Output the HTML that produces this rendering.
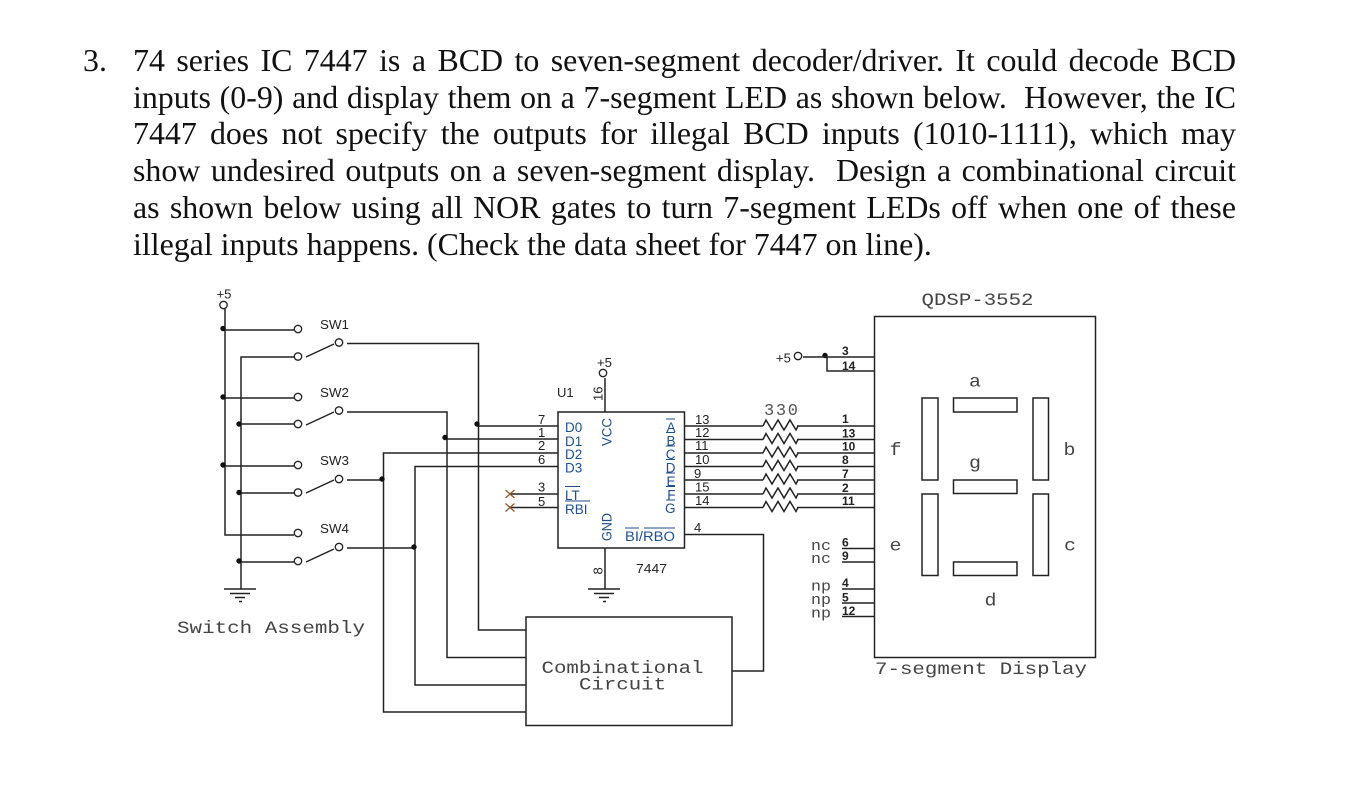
<!DOCTYPE html>
<html>
<head>
<meta charset="utf-8">
<style>
html,body{margin:0;padding:0;background:#fff;}
body{width:1362px;height:800px;position:relative;overflow:hidden;}
.t{position:absolute;left:133px;width:1103px;height:37px;line-height:36.7px;font-family:"Liberation Serif",serif;font-size:31.9px;color:#111;white-space:nowrap;text-align:justify;text-align-last:justify;}
svg{position:absolute;left:0;top:0;}
.w{fill:none;stroke:#222;stroke-width:1.5;}
.c{fill:#fff;stroke:#222;stroke-width:1.3;}
.d{fill:#111;stroke:none;}
.m{font-family:"Liberation Mono",monospace;font-size:17.5px;fill:#444;}
.s{font-family:"Liberation Sans",sans-serif;font-size:13px;fill:#222;}
.n{font-family:"Liberation Sans",sans-serif;font-size:13px;fill:#222;}
.b{font-family:"Liberation Sans",sans-serif;font-size:13.5px;fill:#1f4f8f;}
.o{font-family:"Liberation Sans",sans-serif;font-size:12px;font-weight:bold;fill:#222;}
.bl{stroke:#1f4f8f;stroke-width:1;fill:none;}
</style>
</head>
<body>
<div class="t" style="left:83px;width:40px;top:43px;text-align:left;text-align-last:left;">3.</div>
<div class="t" style="top:43px;">74 series IC 7447 is a BCD to seven-segment decoder/driver. It could decode BCD</div>
<div class="t" style="top:80px;">inputs (0-9) and display them on a 7-segment LED as shown below.&nbsp; However, the IC</div>
<div class="t" style="top:116px;">7447 does not specify the outputs for illegal BCD inputs (1010-1111), which may</div>
<div class="t" style="top:153px;">show undesired outputs on a seven-segment display.&nbsp; Design a combinational circuit</div>
<div class="t" style="top:190px;">as shown below using all NOR gates to turn 7-segment LEDs off when one of these</div>
<div class="t" style="top:227px;text-align:left;text-align-last:left;">illegal inputs happens. (Check the data sheet for 7447 on line).</div>

<svg width="1362" height="800" viewBox="0 0 1362 800" xmlns="http://www.w3.org/2000/svg">
<!-- Switch wiring -->
<path class="w" d="M225 309V535H294M225 330H294M225 398H294M225 466H294"/>
<path class="w" d="M294 357H241V589M241 424H294M241 493H294M241 562H294"/>
<path class="w" d="M306 357L334 344M306 425L334 412M306 493L334 480M306 562L334 549"/>
<path class="w" d="M347 343.500H478.500V630H526"/>
<path class="w" d="M347 412H447V657.500H526"/>
<path class="w" d="M347 480H383.500"/>
<path class="w" d="M347 548H415"/>
<path class="w" d="M558 453H383.500V712H526"/>
<path class="w" d="M558 466.500H415V685H526"/>
<path class="w" d="M477 426H558M445 439H558"/>
<g class="c">
<circle cx="223.500" cy="305" r="3.700"/>
<circle cx="298" cy="329" r="3.700"/><circle cx="298" cy="356.500" r="3.700"/><circle cx="339" cy="342.500" r="3.700"/>
<circle cx="298" cy="397" r="3.700"/><circle cx="298" cy="424" r="3.700"/><circle cx="339" cy="410.500" r="3.700"/>
<circle cx="298" cy="465" r="3.700"/><circle cx="298" cy="492.500" r="3.700"/><circle cx="339" cy="479" r="3.700"/>
<circle cx="298" cy="533" r="3.700"/><circle cx="298" cy="561" r="3.700"/><circle cx="339" cy="547" r="3.700"/>
<circle cx="603" cy="373" r="3.700"/>
<circle cx="798" cy="356" r="3.700"/>
</g>
<g class="d">
<circle cx="223" cy="328.500" r="2.700"/><circle cx="223" cy="397" r="2.700"/><circle cx="223" cy="465" r="2.700"/>
<circle cx="239" cy="424" r="2.700"/><circle cx="239" cy="492.500" r="2.700"/><circle cx="239" cy="561" r="2.700"/>
<circle cx="382" cy="479" r="2.700"/><circle cx="414" cy="547" r="2.700"/>
<circle cx="477" cy="424" r="2.700"/><circle cx="445" cy="437.500" r="2.700"/>
<circle cx="825" cy="355.500" r="2.700"/>
</g>
<!-- Grounds -->
<path class="w" d="M224 589H256M230 593.500H250M235 597.500H245M239 601.500H242"/>
<path class="w" d="M605 548V589M588 589H620M594 593.500H614M599 597.500H609M603 601.500H606"/>
<!-- IC -->
<rect class="w" x="558" y="412" width="126.500" height="136"/>
<path class="w" d="M605 412V378"/>
<path class="w" d="M510 494H558M510 507.500H558"/>
<path stroke="#8a5a2b" stroke-width="1.300" fill="none" d="M505.500 490L514.500 498M505.500 498L514.500 490M505.500 503.500L514.500 511.500M505.500 511.500L514.500 503.500"/>
<path class="w" d="M684 426H763M684 439.500H763M684 453H763M684 466.500H763M684 480H763M684 494H763M684 507.500H763"/>
<path class="w" d="M797 426H874M797 439.500H874M797 453H874M797 466.500H874M797 480H874M797 494H874M797 507.500H874"/>
<g class="w" stroke-width="1.300">
<path d="M763 426L766 420L772 430L778 420L784 430L790 420L796 430L798 426"/>
<path d="M763 439.500L766 433.500L772 443.500L778 433.500L784 443.500L790 433.500L796 443.500L798 439.500"/>
<path d="M763 453L766 447L772 457L778 447L784 457L790 447L796 457L798 453"/>
<path d="M763 466.500L766 460.500L772 470.500L778 460.500L784 470.500L790 460.500L796 470.500L798 466.500"/>
<path d="M763 480L766 474L772 484L778 474L784 484L790 474L796 484L798 480"/>
<path d="M763 494L766 488L772 498L778 488L784 498L790 488L796 498L798 494"/>
<path d="M763 507.500L766 501.500L772 511.500L778 501.500L784 511.500L790 501.500L796 511.500L798 507.500"/>
</g>
<path class="w" d="M684 534.500H763.500V671H732"/>
<rect class="w" x="526" y="617" width="206" height="108.500"/>
<path class="w" d="M803 357H874M827 357V371H874"/>
<!-- Display -->
<rect class="w" x="874.500" y="316.500" width="221" height="341"/>
<rect class="w" x="953.500" y="398" width="63.500" height="14"/>
<rect class="w" x="953.500" y="480" width="63.500" height="13.500"/>
<rect class="w" x="953.500" y="562" width="63.500" height="13.500"/>
<rect class="w" x="922" y="398" width="16" height="82"/>
<rect class="w" x="1033" y="398" width="15.500" height="82"/>
<rect class="w" x="922" y="494" width="16" height="81.500"/>
<rect class="w" x="1033" y="494" width="15.500" height="81.500"/>
<path class="w" d="M842 548.500H874M842 562H874M842 589H874M842 603H874M842 616.500H874"/>

<!-- Labels -->
<text class="s" x="216.500" y="298.500" textLength="15" lengthAdjust="spacingAndGlyphs">+5</text>
<text class="s" x="320" y="329" textLength="29" lengthAdjust="spacingAndGlyphs">SW1</text>
<text class="s" x="320" y="397" textLength="29" lengthAdjust="spacingAndGlyphs">SW2</text>
<text class="s" x="320" y="465" textLength="29" lengthAdjust="spacingAndGlyphs">SW3</text>
<text class="s" x="320" y="533" textLength="29" lengthAdjust="spacingAndGlyphs">SW4</text>
<text class="m" x="177" y="633" textLength="188" lengthAdjust="spacingAndGlyphs">Switch Assembly</text>
<text class="s" x="557" y="397">U1</text>
<text class="s" x="597" y="367" textLength="15" lengthAdjust="spacingAndGlyphs">+5</text>
<text class="s" transform="translate(602.500,401) rotate(-90)" x="0" y="0">16</text>
<text class="s" transform="translate(602.500,574.500) rotate(-90)" x="0" y="0">8</text>
<text class="s" x="636" y="573" textLength="31" lengthAdjust="spacingAndGlyphs">7447</text>

<text class="n" x="538" y="424">7</text><text class="n" x="538" y="437">1</text><text class="n" x="538" y="450">2</text><text class="n" x="538" y="464">6</text>
<text class="n" x="538" y="491.500">3</text><text class="n" x="538" y="506">5</text>
<text class="n" x="695" y="424">13</text><text class="n" x="695" y="437">12</text><text class="n" x="695" y="450">11</text><text class="n" x="695" y="464">10</text>
<text class="n" x="694" y="478">9</text><text class="n" x="695" y="491.500">15</text><text class="n" x="695" y="505">14</text><text class="n" x="694" y="532">4</text>

<text class="b" x="565" y="432">D0</text><text class="b" x="565" y="446">D1</text><text class="b" x="565" y="459">D2</text><text class="b" x="565" y="472.500">D3</text>
<text class="b" x="565" y="500">LT</text><text class="b" x="565" y="514">RBI</text>
<path class="bl" d="M565 486.500H580M565 501H590"/>
<text class="b" text-anchor="end" x="675.500" y="432">A</text><text class="b" text-anchor="end" x="675.500" y="445.500">B</text><text class="b" text-anchor="end" x="675.500" y="459">C</text><text class="b" text-anchor="end" x="675.500" y="472.500">D</text><text class="b" text-anchor="end" x="675.500" y="486">E</text><text class="b" text-anchor="end" x="675.500" y="499.500">F</text><text class="b" text-anchor="end" x="675.500" y="513">G</text>
<path class="bl" d="M666 419H675M666 432.500H675M666 446H675M666 459.500H675M666 473H675M666 486.500H675M666 500H675"/>
<text class="b" x="625" y="541" textLength="50" lengthAdjust="spacingAndGlyphs">BI/RBO</text>
<path class="bl" d="M625 528H639M644 528H675"/>
<text class="b" transform="translate(611.500,446) rotate(-90)" x="0" y="0" textLength="28" lengthAdjust="spacingAndGlyphs">VCC</text>
<text class="b" transform="translate(611.500,541) rotate(-90)" x="0" y="0" textLength="28" lengthAdjust="spacingAndGlyphs">GND</text>

<text class="s" x="776" y="362.500">+5</text>
<text class="m" x="764" y="415" textLength="34" lengthAdjust="spacing" style="font-size:17px;fill:#555">330</text>
<text class="o" x="842" y="355">3</text><text class="o" x="842" y="370">14</text>
<text class="o" x="842" y="423">1</text><text class="o" x="842" y="437.500">13</text><text class="o" x="842" y="450.500">10</text><text class="o" x="842" y="464">8</text><text class="o" x="842" y="478">7</text><text class="o" x="842" y="492">2</text><text class="o" x="842" y="505">11</text>
<text class="o" x="842" y="546.500">6</text><text class="o" x="842" y="560">9</text><text class="o" x="842" y="587">4</text><text class="o" x="842" y="601.500">5</text><text class="o" x="842" y="615">12</text>

<text class="m" x="811" y="550" textLength="20" lengthAdjust="spacingAndGlyphs" style="font-size:15px">nc</text>
<text class="m" x="811" y="563" textLength="20" lengthAdjust="spacingAndGlyphs" style="font-size:15px">nc</text>
<text class="m" x="811" y="590.500" textLength="20" lengthAdjust="spacingAndGlyphs" style="font-size:15px">np</text>
<text class="m" x="811" y="604" textLength="20" lengthAdjust="spacingAndGlyphs" style="font-size:15px">np</text>
<text class="m" x="811" y="617.500" textLength="20" lengthAdjust="spacingAndGlyphs" style="font-size:15px">np</text>

<text class="m" x="921.500" y="305" textLength="112" lengthAdjust="spacingAndGlyphs">QDSP-3552</text>
<text class="m" x="969" y="386.500" textLength="12" lengthAdjust="spacingAndGlyphs">a</text>
<text class="m" x="889.500" y="455" textLength="12" lengthAdjust="spacingAndGlyphs">f</text>
<text class="m" x="1063.500" y="455" textLength="12" lengthAdjust="spacingAndGlyphs">b</text>
<text class="m" x="969" y="468" textLength="12" lengthAdjust="spacingAndGlyphs">g</text>
<text class="m" x="889.500" y="550.500" textLength="12" lengthAdjust="spacingAndGlyphs">e</text>
<text class="m" x="1064" y="550.500" textLength="12" lengthAdjust="spacingAndGlyphs">c</text>
<text class="m" x="984.500" y="605.500" textLength="12" lengthAdjust="spacingAndGlyphs">d</text>
<text class="m" x="875" y="674" textLength="212" lengthAdjust="spacingAndGlyphs">7-segment Display</text>
<text class="m" x="541.500" y="673" textLength="162" lengthAdjust="spacingAndGlyphs">Combinational</text>
<text class="m" x="579" y="689.500" textLength="87" lengthAdjust="spacingAndGlyphs">Circuit</text>
</svg>
</body>
</html>
